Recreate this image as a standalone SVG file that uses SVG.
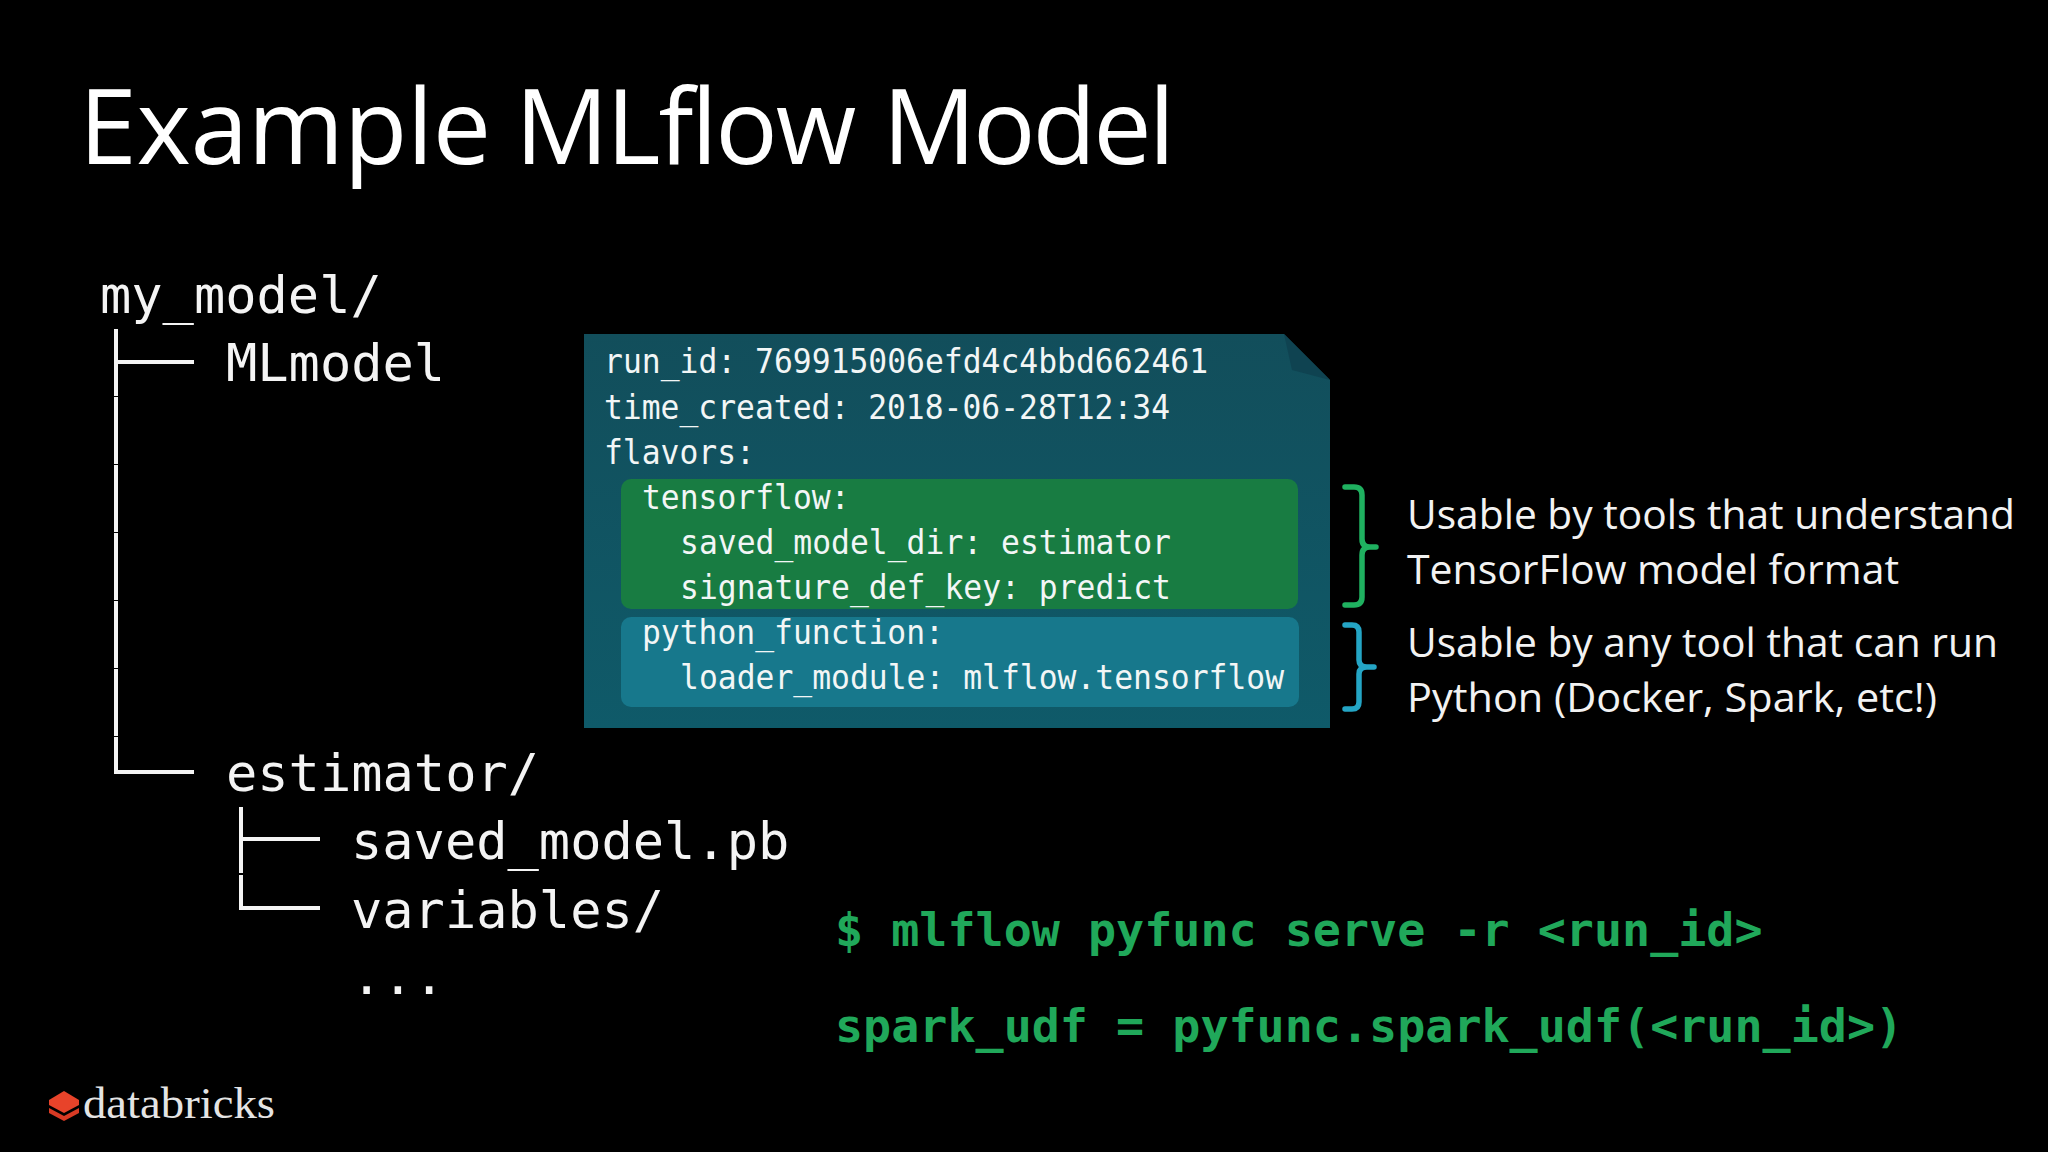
<svg xmlns="http://www.w3.org/2000/svg" width="2048" height="1152" viewBox="0 0 2048 1152">
<defs>
<linearGradient id="doc" x1="0" y1="0" x2="0" y2="1"><stop offset="0" stop-color="#124e5b"/><stop offset="1" stop-color="#0f5a69"/></linearGradient>
</defs>
<style>
.tree{font:52px "DejaVu Sans Mono",monospace;fill:#f4f4f4}
.doc{font:33px "DejaVu Sans Mono",monospace;fill:#f2f6f6}
.note{font:41px "Open Sans",sans-serif;fill:#f2f2f2}
.code{font:bold 46.7px "DejaVu Sans Mono",monospace;fill:#20a85a}
.ln{stroke:#f4f4f4;stroke-width:4;fill:none}
.br{fill:none;stroke-width:5.5;stroke-linecap:round;stroke-linejoin:round}
</style>
<rect width="2048" height="1152" fill="#000"/>
<text id="title" y="164" font-family="Open Sans" font-size="104" fill="#fff"><tspan x="79" letter-spacing="-0.4">Example</tspan> <tspan x="515" letter-spacing="-2.2">MLflow</tspan> <tspan x="882.500" letter-spacing="-3">Model</tspan></text>
<g id="tree-labels">
<text class="tree" x="100" y="313">my_model/</text>
<text class="tree" x="226" y="381">MLmodel</text>
<text class="tree" x="226" y="791">estimator/</text>
<text class="tree" x="351" y="859">saved_model.pb</text>
<text class="tree" x="351" y="928">variables/</text>
<text class="tree" x="351" y="994">...</text>
</g>
<g id="connectors">
<path class="ln" stroke-dasharray="67 1" d="M116 329V772"/>
<path class="ln" d="M114 772H194M116 362H194M241 807V873M241 875V908H320M241 839H320"/>
<path class="br" stroke="#1fb160" d="M1345 487H1354Q1362 487 1362 495V539Q1362 547 1370 547H1376M1370 547Q1362 547 1362 555V597Q1362 605 1354 605H1345"/>
<path class="br" stroke="#24a5c5" d="M1345 625H1352Q1359 625 1359 632V660Q1359 667 1367 667H1374M1367 667Q1359 667 1359 674V702Q1359 709 1352 709H1345"/>
</g>
<g id="mlmodel-file">
<path d="M584 334H1284L1330 380V728H584Z" fill="url(#doc)"/>
<path d="M1284 334L1330 380L1292 370Z" fill="#0f4351"/>
<rect x="621" y="479" width="677" height="130" rx="10" fill="#187c42"/>
<rect x="621" y="617" width="678" height="90" rx="10" fill="#17788c"/>
<text class="doc" x="604" y="373" textLength="604" lengthAdjust="spacingAndGlyphs">run_id: 769915006efd4c4bbd662461</text>
<text class="doc" x="604" y="419" textLength="566" lengthAdjust="spacingAndGlyphs">time_created: 2018-06-28T12:34</text>
<text class="doc" x="604" y="464" textLength="151" lengthAdjust="spacingAndGlyphs">flavors:</text>
<text class="doc" x="642" y="509" textLength="207.500" lengthAdjust="spacingAndGlyphs">tensorflow:</text>
<text class="doc" x="680" y="554" textLength="491" lengthAdjust="spacingAndGlyphs">saved_model_dir: estimator</text>
<text class="doc" x="680" y="599" textLength="491" lengthAdjust="spacingAndGlyphs">signature_def_key: predict</text>
<text class="doc" x="642" y="644" textLength="302" lengthAdjust="spacingAndGlyphs">python_function:</text>
<text class="doc" x="680" y="689" textLength="604" lengthAdjust="spacingAndGlyphs">loader_module: mlflow.tensorflow</text>
</g>
<g id="notes">
<text class="note" x="1407" y="529" textLength="608" lengthAdjust="spacingAndGlyphs">Usable by tools that understand</text>
<text class="note" x="1407" y="584" textLength="492" lengthAdjust="spacingAndGlyphs">TensorFlow model format</text>
<text class="note" x="1407" y="657" textLength="591" lengthAdjust="spacingAndGlyphs">Usable by any tool that can run</text>
<text class="note" x="1407" y="712" textLength="530" lengthAdjust="spacingAndGlyphs">Python (Docker, Spark, etc!)</text>
</g>
<g id="code">
<text class="code" x="835" y="946">$ mlflow pyfunc serve -r &lt;run_id&gt;</text>
<text class="code" x="835" y="1042">spark_udf = pyfunc.spark_udf(&lt;run_id&gt;)</text>
</g>
<g id="logo">
<path d="M49 1100L64 1091L79 1100V1105L64 1113L49 1105Z" fill="#e8432a"/>
<path d="M49 1108L64 1116L79 1108V1113L64 1121L49 1113Z" fill="#d83a24"/>
<text x="83" y="1118" font-family="Liberation Serif" font-size="44" fill="#e4e4e4" textLength="192" lengthAdjust="spacingAndGlyphs">databricks</text>
</g>
</svg>
